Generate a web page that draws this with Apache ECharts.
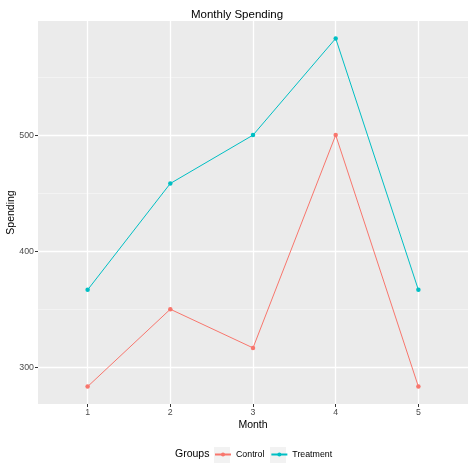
<!DOCTYPE html>
<html>
<head>
<meta charset="utf-8">
<script src="https://cdn.jsdelivr.net/npm/echarts@6/dist/echarts.min.js"></script>
<style>html,body{margin:0;padding:0;background:#fff}#c{width:474px;height:474px}</style>
</head>
<body>
<div id="c"></div>
<script>
var months = [1, 2, 3, 4, 5];
var controlValues = [283.33, 350, 316.67, 500, 283.33];
var treatmentValues = [366.67, 458.33, 500, 583.33, 366.67];
var yMajorTicks = [300, 400, 500];
var yMinorTicks = [350, 450, 550];
var groupNames = ['Control', 'Treatment'];

function pairs(xs, ys) { return xs.map(function (x, i) { return [x, ys[i]]; }); }

var chart = echarts.init(document.getElementById('c'), null, { renderer: 'canvas' });
var font = 'Liberation Sans, Arial, sans-serif';
var yMin = 268.33, yMax = 598.33;
chart.setOption({
  animation: false,
  backgroundColor: '#ffffff',
  textStyle: { fontFamily: font },
  title: {
    text: 'Monthly Spending', left: 'center', top: 4,
    textStyle: { fontFamily: font, fontSize: 11.5, fontWeight: 'normal', color: '#000' }
  },
  graphic: [
    { type: 'text', left: 175, top: 449, style: { text: 'Groups', fontFamily: font, fontSize: 10.5, fill: '#000' } },
    { type: 'rect', shape: { x: 214, y: 447, width: 16, height: 16 }, style: { fill: '#F2F2F2' }, z: 0 },
    { type: 'rect', shape: { x: 270, y: 447, width: 16, height: 16 }, style: { fill: '#F2F2F2' }, z: 0 }
  ],
  legend: {
    data: groupNames, left: 214, top: 450, padding: 0, itemWidth: 16, itemHeight: 5, itemGap: 6,
    textStyle: { fontFamily: font, fontSize: 8.8, color: '#000' }, z: 5
  },
  grid: {
    left: 38, top: 21, right: 6, bottom: 70, show: true, outerBoundsMode: 'none', containLabel: false,
    backgroundColor: '#EBEBEB', borderWidth: 0
  },
  xAxis: {
    type: 'value', min: 0.4, max: 5.6,
    name: 'Month', nameLocation: 'middle', nameGap: 16, nameMoveOverlap: false,
    nameTextStyle: { fontFamily: font, fontSize: 10.5, color: '#000' },
    axisLine: { show: false },
    axisTick: { show: true, length: 3, lineStyle: { color: '#333' }, customValues: months },
    axisLabel: { customValues: months, fontFamily: font, fontSize: 8.8, color: '#4D4D4D', margin: 4 },
    splitLine: { show: true, lineStyle: { color: '#ffffff', width: 1.3 } }
  },
  yAxis: [{
    type: 'value', min: yMin, max: yMax,
    name: 'Spending', nameLocation: 'middle', nameGap: 21, nameMoveOverlap: false,
    nameTextStyle: { fontFamily: font, fontSize: 10.5, color: '#000' },
    axisLine: { show: false },
    axisTick: { show: true, length: 3, lineStyle: { color: '#333' }, customValues: yMajorTicks },
    axisLabel: { customValues: yMajorTicks, fontFamily: font, fontSize: 8.8, color: '#4D4D4D', margin: 4 },
    splitLine: { show: true, lineStyle: { color: '#ffffff', width: 1.3 } }
  }, {
    type: 'value', min: yMin, max: yMax, position: 'left',
    axisLine: { show: false },
    axisTick: { show: false, customValues: yMinorTicks },
    axisLabel: { show: false, customValues: yMinorTicks },
    splitLine: { show: true, lineStyle: { color: '#F7F7F7', width: 0.7 } }
  }],
  series: [{
    name: 'Control', type: 'line', data: pairs(months, controlValues),
    symbol: 'circle', symbolSize: 4.5, showSymbol: true,
    itemStyle: { color: '#F8766D' }, lineStyle: { color: '#F8766D', width: 1 }, z: 3
  }, {
    name: 'Treatment', type: 'line', data: pairs(months, treatmentValues),
    symbol: 'circle', symbolSize: 4.5, showSymbol: true,
    itemStyle: { color: '#00BFC4' }, lineStyle: { color: '#00BFC4', width: 1 }, z: 3
  }]
});
</script>
</body>
</html>
